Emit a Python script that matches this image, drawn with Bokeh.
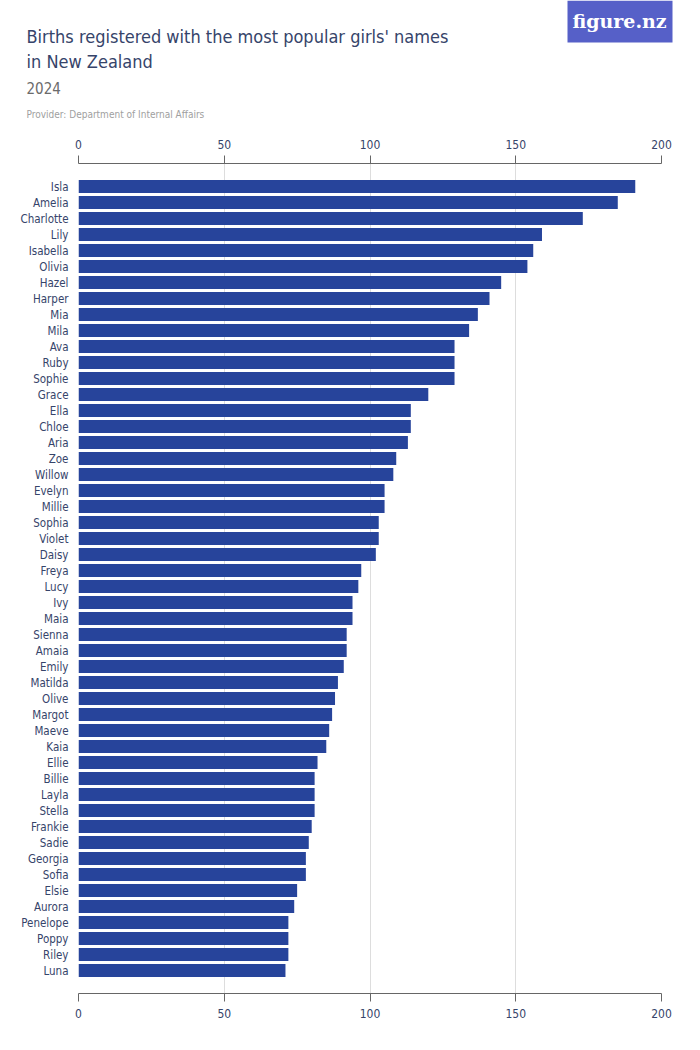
from bokeh.plotting import figure
from bokeh.models import Range1d, FixedTicker, LinearAxis, Label, ColumnDataSource
from bokeh.layouts import column
from bokeh.embed import file_html
from bokeh.resources import INLINE

# ---------------- data ----------------
names = ["Isla", "Amelia", "Charlotte", "Lily", "Isabella", "Olivia", "Hazel", "Harper",
         "Mia", "Mila", "Ava", "Ruby", "Sophie", "Grace", "Ella", "Chloe", "Aria", "Zoe",
         "Willow", "Evelyn", "Millie", "Sophia", "Violet", "Daisy", "Freya", "Lucy", "Ivy",
         "Maia", "Sienna", "Amaia", "Emily", "Matilda", "Olive", "Margot", "Maeve", "Kaia",
         "Ellie", "Billie", "Layla", "Stella", "Frankie", "Sadie", "Georgia", "Sofia",
         "Elsie", "Aurora", "Penelope", "Poppy", "Riley", "Luna"]
births = [191, 185, 173, 159, 156, 154, 145, 141, 137, 134, 129, 129, 129, 120, 114, 114,
          113, 109, 108, 105, 105, 103, 103, 102, 97, 96, 94, 94, 92, 92, 91, 89, 88, 87,
          86, 85, 82, 81, 81, 81, 80, 79, 78, 78, 75, 74, 72, 72, 72, 71]
x_ticks = [0, 50, 100, 150, 200]

title_lines = ["Births registered with the most popular girls' names", "in New Zealand"]
subtitle = "2024"
provider = "Provider: Department of Internal Affairs"
logo_text = "figure.nz"

# ---------------- styles ----------------
FONT = "'DejaVu Sans Condensed', Roboto, sans-serif"
TEXT_DARK = "#36446a"
BAR_COLOR = "#27449b"
LOGO_COLOR = "#5660c8"

W = 700
HEAD_H = 126
CHART_H = 924
FL, FR = 78, 661          # frame left / right in page pixels

# ---------------- header ----------------
head = figure(width=W, height=HEAD_H, x_range=Range1d(0, W), y_range=Range1d(HEAD_H, 0),
              toolbar_location=None, output_backend="svg", min_border=0)
head.frame_align = False
head.axis.visible = False
head.grid.visible = False
head.outline_line_color = None

head.quad(left=[567], right=[672], top=[0], bottom=[42], fill_color=LOGO_COLOR, line_color=None)
head.add_layout(Label(x=619, y=20, text=logo_text, text_font="'DejaVu Serif', serif",
                      text_font_style="bold", text_font_size="19px", text_color="white",
                      text_align="center", text_baseline="middle"))

for i, line in enumerate(title_lines):
    head.add_layout(Label(x=26, y=36 + 25 * i, text=line, text_font=FONT,
                          text_font_size="18px", text_color=TEXT_DARK,
                          text_baseline="alphabetic"))
head.add_layout(Label(x=26, y=87, text=subtitle, text_font=FONT, text_font_size="15px",
                      text_color="#6b6b6b", text_baseline="alphabetic"))
head.add_layout(Label(x=26, y=114, text=provider, text_font=FONT, text_font_size="10px",
                      text_color="#a0a0a0", text_baseline="alphabetic"))

# ---------------- chart ----------------
n = len(names)
src = ColumnDataSource(dict(y=list(range(n)), births=births, name=names))

pad = 23 / 16.0
p = figure(width=W, height=CHART_H, x_range=Range1d(0, 200),
           y_range=Range1d(n - 1 + pad, -pad),
           x_axis_location="above", toolbar_location=None, output_backend="svg",
           min_border_left=FL, min_border_right=W - FR, min_border_top=37, min_border_bottom=57)
p.outline_line_color = None

p.hbar(y="y", left=0, right="births", height=0.8, source=src,
       fill_color=BAR_COLOR, line_color=None)

bottom_axis = LinearAxis()
p.add_layout(bottom_axis, "below")

for ax in p.xaxis:
    ax.ticker = FixedTicker(ticks=x_ticks)
    ax.axis_line_color = "#666666"
    ax.major_tick_line_color = "#666666"
    ax.major_tick_out = 8
    ax.major_tick_in = 0
    ax.minor_tick_line_color = None
    ax.major_label_text_font = FONT
    ax.major_label_text_font_size = "12px"
    ax.major_label_text_color = TEXT_DARK
    ax.major_label_standoff = 7

p.xgrid.ticker = FixedTicker(ticks=x_ticks)
p.xgrid.grid_line_color = "#dddddd"
p.ygrid.grid_line_color = None

yax = p.yaxis[0]
yax.ticker = FixedTicker(ticks=list(range(n)))
yax.major_label_overrides = {i: nm for i, nm in enumerate(names)}
yax.axis_line_color = None
yax.major_tick_line_color = None
yax.minor_tick_line_color = None
yax.major_tick_out = 0
yax.major_tick_in = 0
yax.major_label_standoff = 10
yax.major_label_text_font = FONT
yax.major_label_text_font_size = "11.5px"
yax.major_label_text_color = TEXT_DARK

layout = column(head, p, spacing=0)
open("out.html", "w").write(file_html(layout, INLINE))
